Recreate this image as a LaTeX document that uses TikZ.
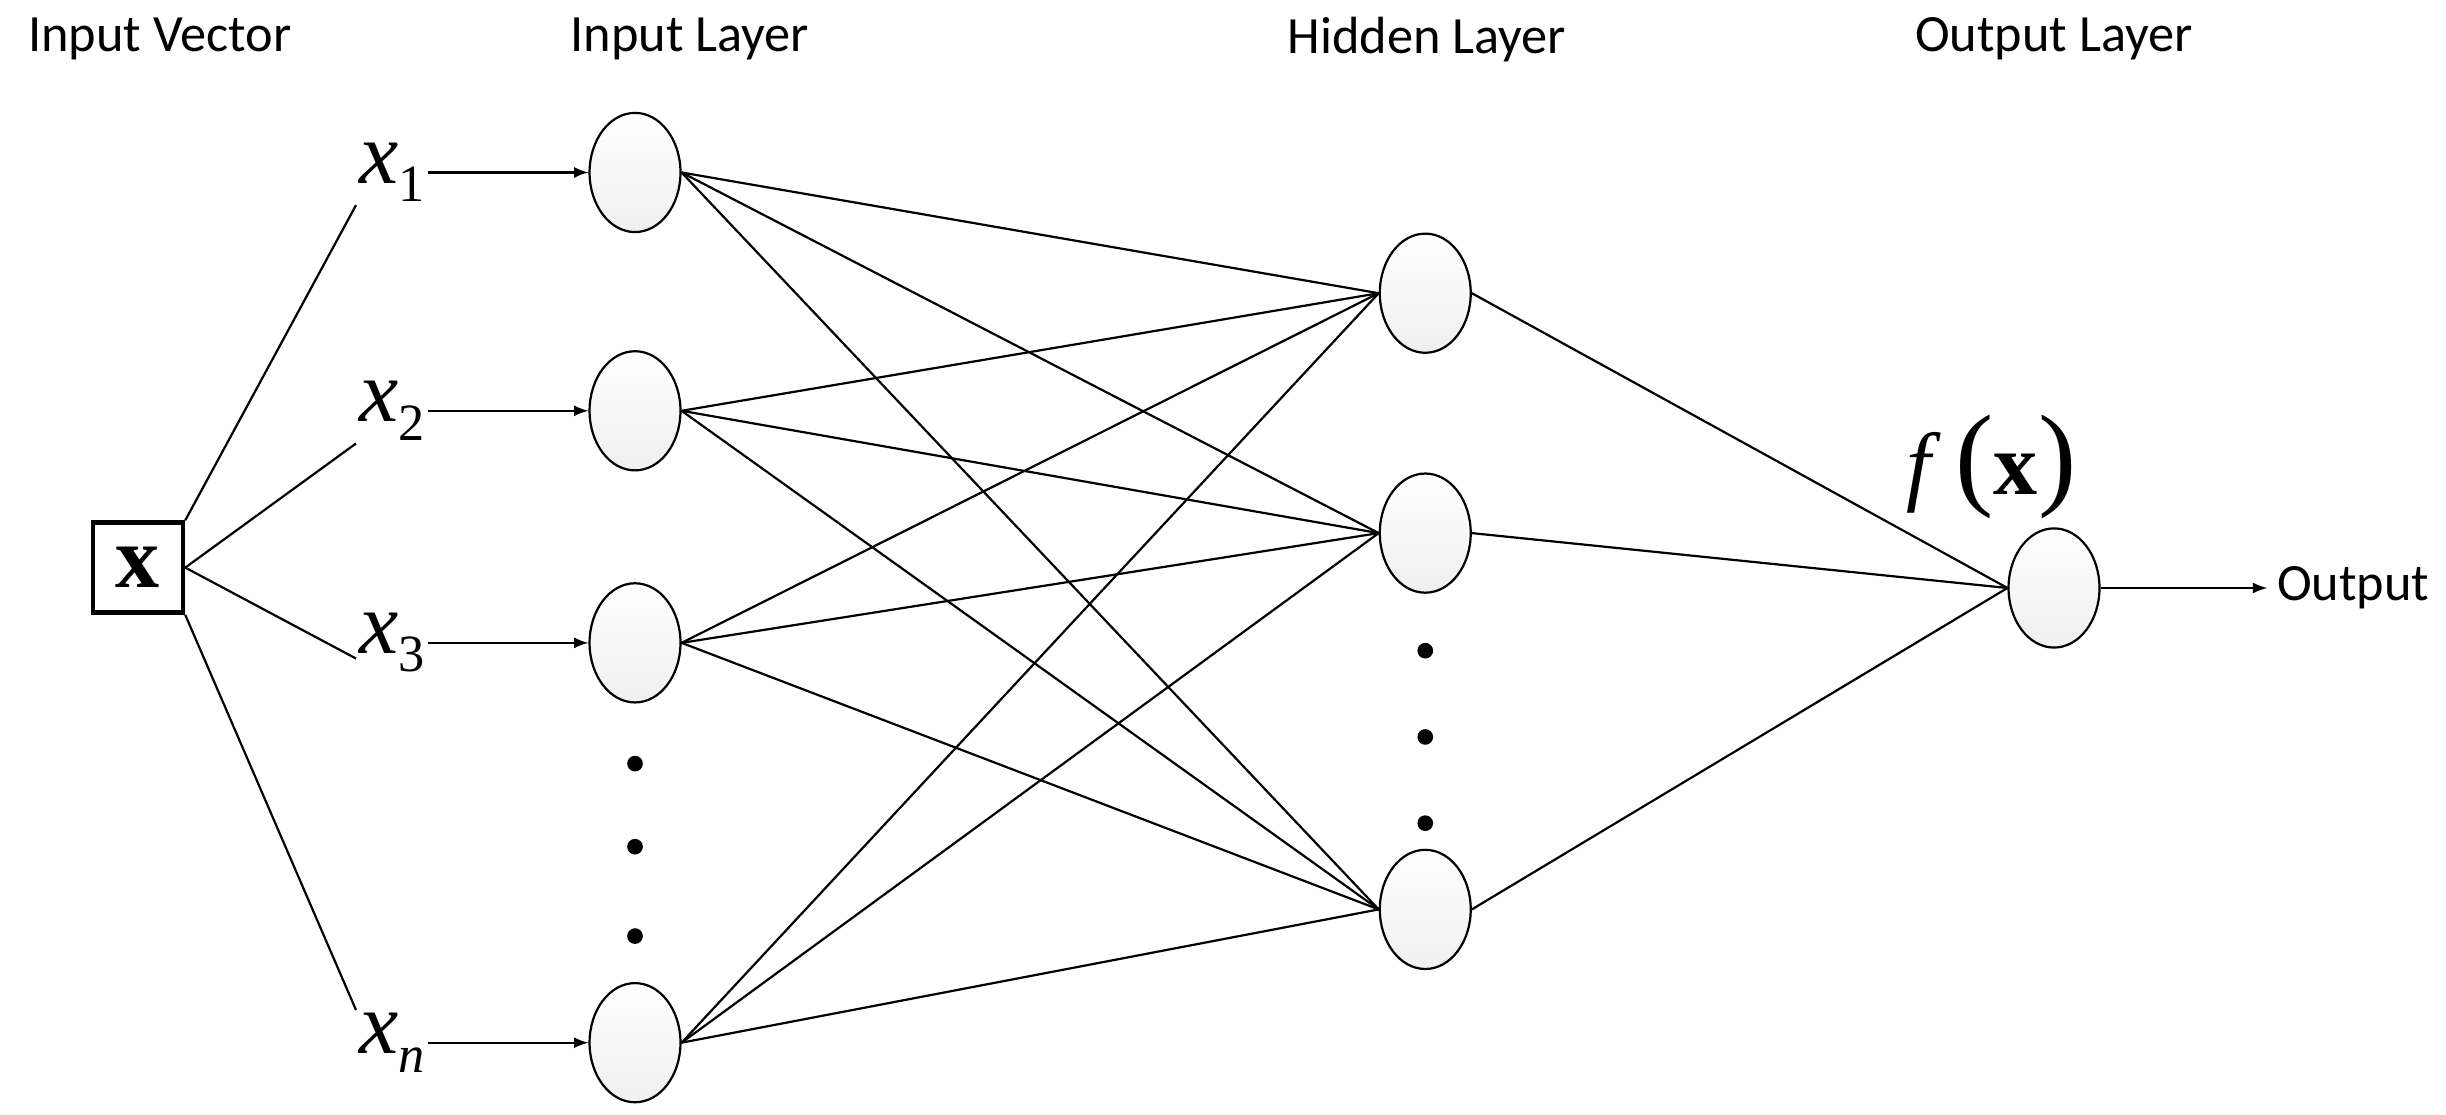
\documentclass[tikz,border=0pt]{standalone}
\usepackage{fontspec}
\setmainfont{Liberation Serif}
\newfontfamily\labelfont{Carlito}
\usetikzlibrary{shapes.geometric}
\newcommand{\xsub}[1]{\textit{x}\raisebox{-0.45ex}{\fontsize{19}{20}\selectfont #1}}

\begin{document}
\begin{tikzpicture}[
    x=0.2mm, y=-0.2mm,
    >=latex,
    neuron/.style={draw, thick, ellipse, minimum height=15.2mm, minimum width=11.6mm,
        inner sep=0pt, top color=white, bottom color=blue!4!gray!12},
    title/.style={font=\labelfont\fontsize{19}{21}\selectfont},
    xlabel/.style={font=\fontsize{32}{34}\selectfont, inner sep=1pt},
    dot/.style={circle, fill, inner sep=0pt, minimum size=2mm},
    link/.style={draw, thick}]

    \useasboundingbox (0,0) rectangle (1560,711);

    % titles
    \node[title] (tvec) at (102,25) {Input Vector};
    \node[title] (tin) at (440,25) {Input Layer};
    \node[title] (thid) at (910,25) {Hidden Layer};
    \node[title] (tout) at (1310,25) {Output Layer};

    % input vector
    \node[draw, line width=1.6pt, minimum size=11.5mm, inner sep=0pt, font=\fontsize{32}{34}\selectfont\bfseries] (X) at (88,362) {x};

    \node[xlabel] (x1) at (250,110) {\xsub{1}};
    \node[xlabel] (x2) at (250,262) {\xsub{2}};
    \node[xlabel] (x3) at (250,410) {\xsub{3}};
    \node[xlabel] (xn) at (250,665) {\xsub{\textit{n}}};

    \draw[link] (X.north east) -- (x1.south west);
    \draw[link] (X.east) -- (x2.south west);
    \draw[link] (X.east) -- ([yshift=-2mm]x3.west);
    \draw[link] (X.south east) -- (xn.north west);

    % input layer
    \node[neuron] (i1) at (405,110) {};
    \node[neuron] (i2) at (405,262) {};
    \node[neuron] (i3) at (405,410) {};
    \node[neuron] (in) at (405,665) {};
    \foreach \y in {487,540,597} \node[dot] at (405,\y) {};

    \foreach \s/\t in {x1/i1, x2/i2, x3/i3, xn/in}
        \draw[link, ->] (\s.east) -- (\t.west);

    % hidden layer
    \node[neuron] (h1) at (909,187) {};
    \node[neuron] (h2) at (909,340) {};
    \node[neuron] (h3) at (909,580) {};
    \foreach \y in {415,470,525} \node[dot] at (909,\y) {};

    \foreach \s in {i1,i2,i3,in}
        \foreach \t in {h1,h2,h3}
            \draw[link] (\s.east) -- (\t.west);

    % output layer
    \node[neuron] (o) at (1310,375) {};
    \node[font=\fontsize{32}{34}\selectfont] (fx) at (1270,298) {\textit{f}\,\scalebox{1.3}{(}\textbf{x}\scalebox{1.3}{)}};
    \foreach \s in {h1,h2,h3}
        \draw[link] (\s.east) -- (o.west);

    \node[title, anchor=west] (out) at (1446,375) {Output};
    \draw[link, ->] (o.east) -- (out.west);

\end{tikzpicture}
\end{document}
